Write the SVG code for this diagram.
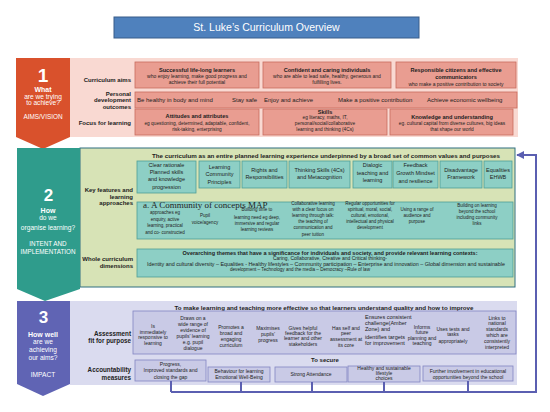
<svg xmlns="http://www.w3.org/2000/svg" width="550" height="412" viewBox="0 0 550 412">
<defs>
<style>
text{font-family:"Liberation Sans",Arial,sans-serif;fill:#222}
.b{font-weight:bold}
.w{fill:#fff}
.m{text-anchor:middle}
.e{text-anchor:end}
.f45{font-size:4.5px}
.f5{font-size:5px}
.f55{font-size:5.5px}
.f56{font-size:5.6px}
.f6{font-size:6px}
.f7{font-size:7px}
.pk{fill:#e99d91;stroke:#c96b5e;stroke-width:.8}
.tl{fill:#8dcfc5;stroke:#4f9f96;stroke-width:.8}
.lv{fill:#c9cae6;stroke:#8286c2;stroke-width:.8}
.cn{fill:none;stroke:#5b5fb1;stroke-width:2}
</style>
<marker id="ah" viewBox="0 0 10 10" refX="9" refY="5" markerWidth="4" markerHeight="4" orient="auto">
<path d="M0,0 L10,5 L0,10 z" fill="#5b5fb1"/>
</marker>
</defs>
<rect width="550" height="412" fill="#fff"/>

<g id="title">
<rect x="114" y="17" width="305" height="21" fill="#4f81bd" stroke="#385d8a" stroke-width="1"/>
<text x="266.5" y="31" class="m w" font-size="10.5">St. Luke’s Curriculum Overview</text>
</g>

<g id="section1">
<rect x="70" y="58" width="448" height="79" fill="#f9d9d2"/>
<polygon points="16,58 70,58 70,137 43,149 16,137" fill="#d9512c"/>
<text x="43" y="82" class="m w b" font-size="19">1</text>
<text x="43" y="92" class="m w b f7">What</text>
<text x="43" y="98.5" class="m w" font-size="6.6">are we trying</text>
<text x="43" y="104.5" class="m w" font-size="6.6">to achieve?</text>
<text x="43" y="118.5" class="m w" font-size="6.4">AIMS/VISION</text>
<text x="131" y="82" class="e b f6">Curriculum aims</text>
<text x="131" y="95.5" class="e b f6">Personal</text>
<text x="131" y="102" class="e b f6">development</text>
<text x="131" y="108.7" class="e b f6">outcomes</text>
<text x="131" y="124.8" class="e b f6">Focus for learning</text>
</g>

<g id="aim-successful">
<rect class="pk" x="135" y="62" width="124" height="26"/>
<text x="197" y="72" class="m b f56">Successful life-long learners</text>
<text x="197" y="77.7" class="m f5">who enjoy learning, make good progress and</text>
<text x="197" y="83.5" class="m f5">achieve their full potential</text>
</g>
<g id="aim-confident">
<rect class="pk" x="263" y="62" width="128" height="26"/>
<text x="327" y="72" class="m b f56">Confident and caring individuals</text>
<text x="327" y="77.7" class="m f5">who are able to lead safe, healthy, generous and</text>
<text x="327" y="83.5" class="m f5">fulfilling lives.</text>
</g>
<g id="aim-responsible">
<rect class="pk" x="396" y="62" width="120" height="26"/>
<text x="456" y="72" class="m b f56">Responsible citizens and effective</text>
<text x="456" y="78.7" class="m b f56">communicators</text>
<text x="456" y="86" class="m f5">who make a positive contribution to society</text>
</g>
<g id="outcomes">
<rect class="pk" x="135" y="92" width="382" height="16"/>
<text x="137" y="101.5" class="f6">Be healthy  in body and mind</text>
<text x="232" y="101.5" class="f6">Stay safe</text>
<text x="264" y="101.5" class="f6">Enjoy and achieve</text>
<text x="338" y="101.5" class="f6">Make a positive contribution</text>
<text x="427" y="101.5" class="f6">Achieve economic wellbeing</text>
</g>
<g id="focus-attitudes">
<rect class="pk" x="135" y="109" width="124" height="26"/>
<text x="197" y="118" class="m b f56">Attitudes and attributes</text>
<text x="197" y="124.5" class="m" font-size="4.8">eg questioning, determined, adaptable, confident,</text>
<text x="197" y="130.8" class="m" font-size="4.8">risk-taking, enterprising</text>
</g>
<g id="focus-skills">
<rect class="pk" x="263" y="109" width="124" height="26"/>
<text x="325" y="113.7" class="m b f56">Skills</text>
<text x="325" y="119.4" class="m" font-size="4.8">eg literacy, maths, IT,</text>
<text x="325" y="125" class="m" font-size="4.8">personal/social/collaborative</text>
<text x="325" y="130.7" class="m" font-size="4.8">learning and thinking (4Cs)</text>
</g>
<g id="focus-knowledge">
<rect class="pk" x="390" y="109" width="123" height="26"/>
<text x="452" y="118.7" class="m b f56">Knowledge and understanding</text>
<text x="452" y="125" class="m" font-size="4.8">eg. cultural capital from diverse cultures, big ideas</text>
<text x="452" y="130.7" class="m" font-size="4.8">that shape our world</text>
</g>

<g id="section2">
<rect x="80" y="148" width="435" height="139" fill="#d7e3b6" stroke="#2f6f80" stroke-width="1"/>
<polygon points="17,148 80,148 80,289 45,301 17,289" fill="#2f9c8c"/>
<text x="48.5" y="200.5" class="m w b" font-size="17">2</text>
<text x="48" y="212.5" class="m w b f7">How</text>
<text x="48" y="219.8" class="m w" font-size="6.6">do we</text>
<text x="48" y="229.8" class="m w" font-size="6.6">organise learning?</text>
<text x="48" y="245.5" class="m w" font-size="6.3">INTENT  AND</text>
<text x="48" y="253.5" class="m w" font-size="6.3">IMPLEMENTATION</text>
<text x="326" y="158" class="m b f6" textLength="348" lengthAdjust="spacingAndGlyphs">The curriculum as an entire planned learning experience underpinned by a broad set of common values and purposes</text>
<text x="133" y="192" class="e b f6">Key features and</text>
<text x="133" y="198.8" class="e b f6">learning</text>
<text x="133" y="205.4" class="e b f6">approaches</text>
<text x="133" y="261" class="e b f6">Whole curriculum</text>
<text x="133" y="268" class="e b f6">dimensions</text>
</g>

<g id="feat-rationale">
<rect class="tl" x="137" y="161" width="59" height="32"/>
<text x="166.5" y="167" class="m f55">Clear rationale</text>
<text x="166.5" y="173.6" class="m f55">Planned skills</text>
<text x="166.5" y="181" class="m f55">and knowledge</text>
<text x="166.5" y="188.6" class="m f55">progression</text>
</g>
<g id="feat-community">
<rect class="tl" x="199" y="161" width="41" height="27"/>
<text x="219.5" y="168.8" class="m f55">Learning</text>
<text x="219.5" y="176" class="m f55">Community</text>
<text x="219.5" y="183.8" class="m f55">Principles</text>
</g>
<g id="feat-rights">
<rect class="tl" x="242" y="161" width="45" height="27"/>
<text x="264.5" y="172" class="m f55">Rights and</text>
<text x="264.5" y="179.3" class="m f55">Responsibilities</text>
</g>
<g id="feat-thinking">
<rect class="tl" x="289" y="161" width="61" height="27"/>
<text x="319.5" y="172" class="m f55">Thinking Skills (4Cs)</text>
<text x="319.5" y="179.3" class="m f55">and Metacognition</text>
</g>
<g id="feat-dialogic">
<rect class="tl" x="353" y="161" width="39" height="27"/>
<text x="372.5" y="167" class="m f55">Dialogic</text>
<text x="372.5" y="174.7" class="m f55">teaching and</text>
<text x="372.5" y="182" class="m f55">learning</text>
</g>
<g id="feat-feedback">
<rect class="tl" x="393" y="161" width="45" height="27"/>
<text x="415.5" y="167" class="m f55">Feedback</text>
<text x="415.5" y="174.7" class="m f55">Growth Mindset</text>
<text x="415.5" y="182.5" class="m f55">and resilience</text>
</g>
<g id="feat-disadvantage">
<rect class="tl" x="440" y="161" width="42" height="27"/>
<text x="461" y="172" class="m f55">Disadvantage</text>
<text x="461" y="178.7" class="m f55">Framework</text>
</g>
<g id="feat-equalities">
<rect class="tl" x="484" y="161" width="28" height="27"/>
<text x="498" y="172" class="m f55">Equalities</text>
<text x="498" y="178.7" class="m f55">EHWB</text>
</g>

<g id="approaches">
<rect class="tl" x="137" y="202" width="376" height="37" stroke="#3f8f88"/>
<text x="143" y="208" font-size="9" style="font-family:'Liberation Serif',serif">a. A Community of concepts MAP</text>
<text x="165" y="214" class="m f45">approaches eg</text>
<text x="165" y="220.5" class="m f45">enquiry, active</text>
<text x="165" y="227" class="m f45">learning, practical</text>
<text x="165" y="233.5" class="m f45">and co- constructed</text>
<text x="205" y="217" class="m f45">Pupil</text>
<text x="205" y="224" class="m f45">voice/agency</text>
<text x="257" y="211" class="m f45">Building time to</text>
<text x="257" y="219" class="m f45">learning need eg deep,</text>
<text x="257" y="225" class="m f45">immersive and regular</text>
<text x="257" y="231" class="m f45">learning reviews</text>
<text x="313" y="205" class="m f45">Collaborative learning</text>
<text x="313" y="211" class="m f45">with a clear focus on</text>
<text x="313" y="217" class="m f45">learning through talk:</text>
<text x="313" y="223" class="m f45">the teaching of</text>
<text x="313" y="229" class="m f45">communication and</text>
<text x="313" y="235.5" class="m f45">peer tuition</text>
<text x="370" y="205" class="m f45">Regular opportunities for</text>
<text x="370" y="211" class="m f45">spiritual, moral, social,</text>
<text x="370" y="217" class="m f45">cultural, emotional,</text>
<text x="370" y="223" class="m f45">intellectual and  physical</text>
<text x="370" y="229" class="m f45">development</text>
<text x="417" y="211" class="m f45">Using a range of</text>
<text x="417" y="217" class="m f45">audience and</text>
<text x="417" y="223" class="m f45">purpose</text>
<text x="477" y="207" class="m f45">Building on learning</text>
<text x="477" y="213" class="m f45">beyond the school</text>
<text x="477" y="219" class="m f45">including community</text>
<text x="477" y="225" class="m f45">links</text>
</g>

<g id="dimensions">
<rect class="tl" x="137" y="249" width="376" height="28" stroke="#3f8f88"/>
<text x="330" y="255" class="m b f5" textLength="295" lengthAdjust="spacingAndGlyphs">Overarching themes that have a significance for individuals and society, and provide relevant learning contexts:</text>
<text x="330" y="260" class="m f5" textLength="114" lengthAdjust="spacingAndGlyphs">Caring, Collaborative, Creative and Critical thinking-</text>
<text x="326" y="265.7" class="m f5" textLength="358" lengthAdjust="spacingAndGlyphs">Identity and cultural diversity – Equalities - Healthy lifestyles – Community participation – Enterprise and innovation  – Global dimension and sustainable</text>
<text x="300" y="271" class="m f5" textLength="140" lengthAdjust="spacingAndGlyphs">development – Technology and  the media – Democracy –Rule of law</text>
</g>

<g id="section3">
<rect x="70" y="301" width="447" height="84" fill="#dadbef"/>
<polygon points="17,301 70,301 70,384 43,396 17,384" fill="#6064b4"/>
<text x="43.5" y="323" class="m w b" font-size="17">3</text>
<text x="43" y="336.8" class="m w b f7">How well</text>
<text x="43" y="344.2" class="m w" font-size="6.6">are we</text>
<text x="43" y="351.5" class="m w" font-size="6.6">achieving</text>
<text x="43" y="359.5" class="m w" font-size="6.6">our aims?</text>
<text x="43" y="376.5" class="m w" font-size="6.6">IMPACT</text>
<text x="324" y="310" class="m b f6" textLength="299" lengthAdjust="spacingAndGlyphs">To make learning and teaching more effective so that learners understand quality and how to improve</text>
<text x="131" y="335.5" class="e b" font-size="6.3">Assessment</text>
<text x="131" y="343.3" class="e b" font-size="6.3">fit for purpose</text>
<text x="131" y="372.3" class="e b" font-size="6.3">Accountability</text>
<text x="131" y="379.5" class="e b" font-size="6.3">measures</text>
<text x="325" y="362.3" class="m b f6">To secure</text>
</g>

<g id="assessment">
<rect class="lv" x="133" y="311" width="383" height="43"/>
<text x="153" y="327.8" class="m f5">Is</text>
<text x="153" y="333.5" class="m f5">immediately</text>
<text x="153" y="339" class="m f5">responsive to</text>
<text x="153" y="345" class="m f5">learning</text>
<text x="193" y="320" class="m f5">Draws on a</text>
<text x="193" y="325.8" class="m f5">wide range of</text>
<text x="193" y="331.8" class="m f5">evidence of</text>
<text x="193" y="337.5" class="m f5">pupils’ learning</text>
<text x="193" y="343.5" class="m f5">e.g. pupil</text>
<text x="193" y="349.5" class="m f5">dialogue</text>
<text x="231" y="328.8" class="m f5">Promotes a</text>
<text x="231" y="334.8" class="m f5">broad and</text>
<text x="231" y="340.8" class="m f5">engaging</text>
<text x="231" y="347" class="m f5">curriculum</text>
<text x="268" y="330" class="m f5">Maximises</text>
<text x="268" y="336" class="m f5">pupils’</text>
<text x="268" y="342" class="m f5">progress</text>
<text x="303" y="330" class="m f5">Gives helpful</text>
<text x="303" y="335" class="m f5">feedback for the</text>
<text x="303" y="340" class="m f5">learner and other</text>
<text x="303" y="346" class="m f5">stakeholders</text>
<text x="346" y="330" class="m f5">Has self and</text>
<text x="346" y="335" class="m f5">peer</text>
<text x="346" y="341" class="m f5">assessment at</text>
<text x="346" y="347" class="m f5">its core</text>
<text x="365" y="318.7" class="f55">Ensures consistent</text>
<text x="365" y="325.3" class="f55">challenge(Amber</text>
<text x="365" y="331.3" class="f55">Zone) and</text>
<text x="365" y="338.7" class="f55">identifies targets</text>
<text x="365" y="345.3" class="f55">for improvement</text>
<text x="422" y="328.5" class="m f5">Informs</text>
<text x="422" y="334" class="m f5">future</text>
<text x="422" y="339.5" class="m f5">planning and</text>
<text x="422" y="345" class="m f5">teaching</text>
<text x="453" y="331" class="m f5">Uses tests and</text>
<text x="453" y="336" class="m f5">tasks</text>
<text x="453" y="342.5" class="m f5">appropriately</text>
<text x="497" y="320" class="m f5">Links to</text>
<text x="497" y="325" class="m f5">national</text>
<text x="497" y="331" class="m f5">standards</text>
<text x="497" y="337" class="m f5">which are</text>
<text x="497" y="343" class="m f5">consistently</text>
<text x="497" y="348.5" class="m f5">interpreted</text>
</g>

<g id="acc-progress">
<rect class="lv" x="135" y="360" width="71" height="21"/>
<text x="170.5" y="365.7" class="m f5">Progress,</text>
<text x="170.5" y="371.8" class="m f5">Improved standards and</text>
<text x="170.5" y="378.5" class="m f5">closing the gap</text>
</g>
<g id="acc-behaviour">
<rect class="lv" x="208" y="367" width="62" height="15"/>
<text x="239" y="372.8" class="m f5">Behaviour  for learning</text>
<text x="239" y="378.5" class="m f5">Emotional Well-Being</text>
</g>
<g id="acc-attendance">
<rect class="lv" x="275" y="367" width="72" height="15"/>
<text x="311" y="376" class="m f5">Strong Attendance</text>
</g>
<g id="acc-healthy">
<rect class="lv" x="348" y="366" width="72" height="16"/>
<text x="384" y="369.5" class="m f5">Healthy and sustainable</text>
<text x="384" y="375" class="m f5">lifestyle</text>
<text x="384" y="380" class="m f5">choices</text>
</g>
<g id="acc-further">
<rect class="lv" x="423" y="366" width="90" height="15"/>
<text x="468" y="372.7" class="m f5">Further involvement in educational</text>
<text x="468" y="378.5" class="m f5">opportunities beyond the school</text>
</g>

<g id="connectors">
<path class="cn" d="M171,381 V392 M241,382 V392 M312,382 V392 M384,382 V392 M468,381 V392"/>
<path class="cn" d="M171,392 H536 V155 H517" marker-end="url(#ah)"/>
</g>
</svg>
